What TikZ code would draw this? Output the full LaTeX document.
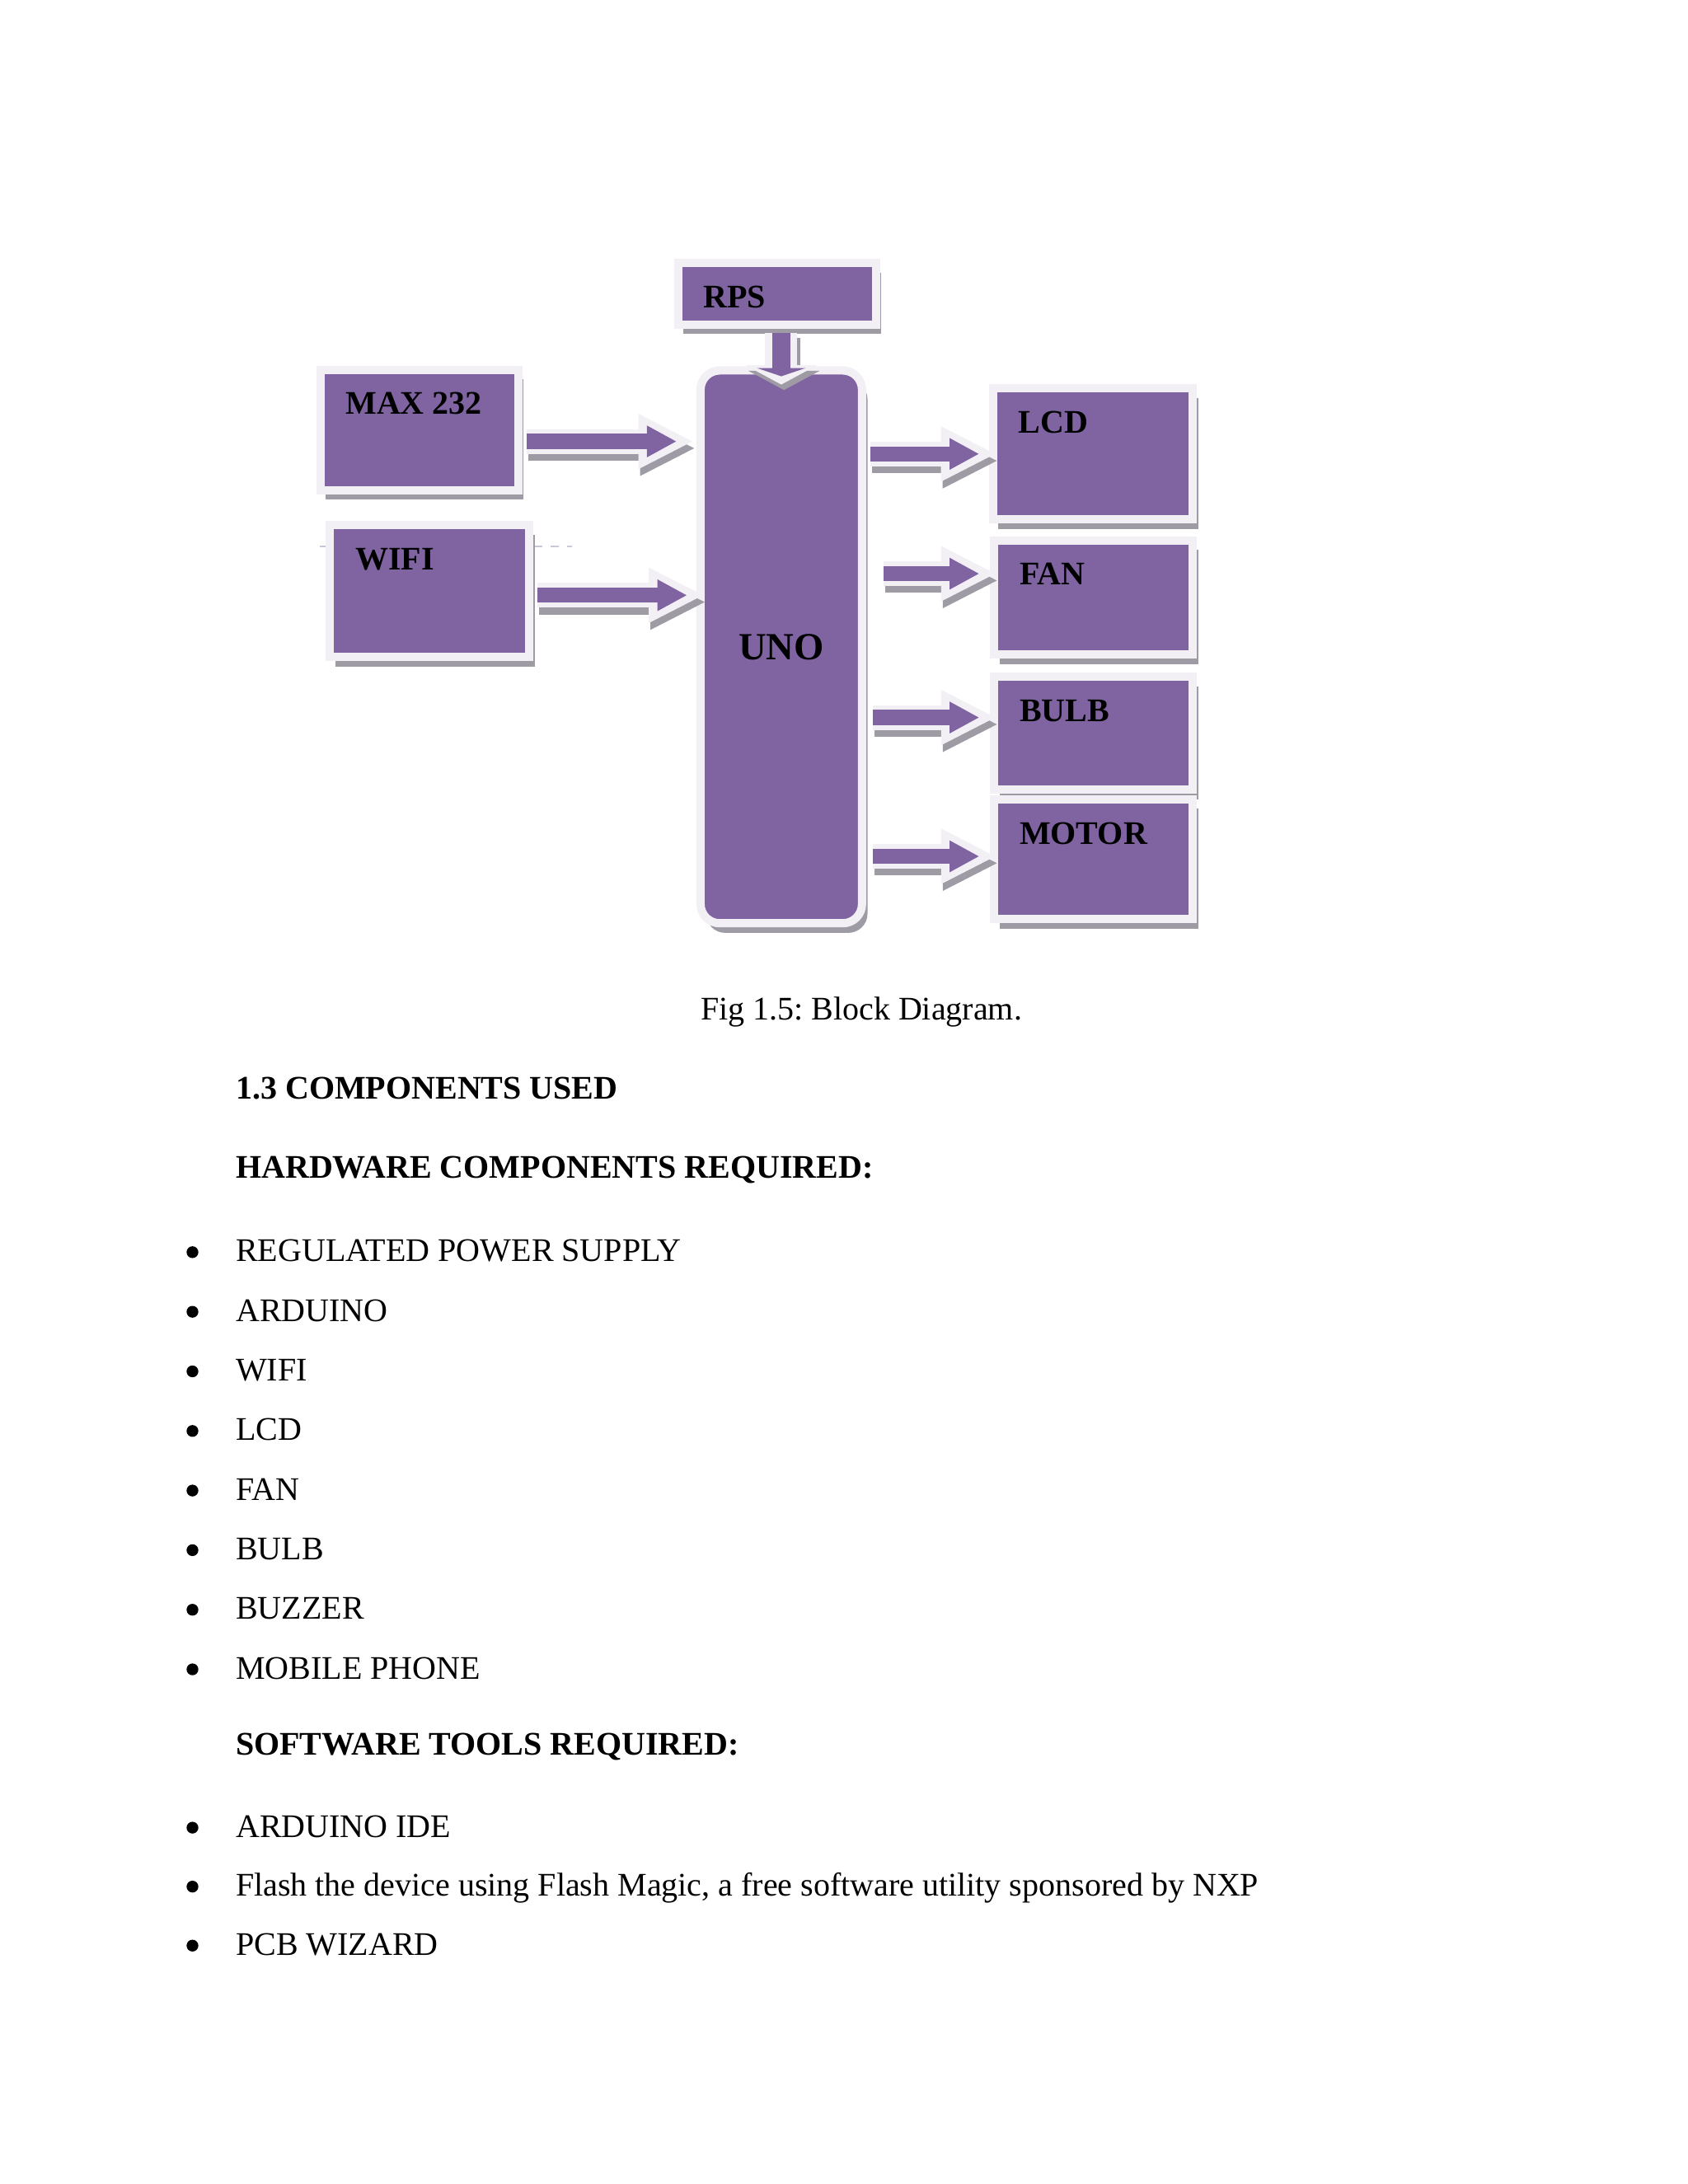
\documentclass[12pt,tikz,border=0pt]{standalone}
\usepackage{fontspec}
\setmainfont{Liberation Serif}
\usetikzlibrary{arrows.meta,shadows}
\frenchspacing

\definecolor{boxpurple}{RGB}{128,100,162}
\definecolor{boxrim}{RGB}{242,240,245}
\definecolor{boxshade}{RGB}{158,155,165}
\definecolor{ghostline}{RGB}{200,200,212}

\tikzset{
    block diagram/.style = {line join=miter},
    block/.style   = {draw=boxrim, line width=3pt, fill=boxpurple, inner sep=0pt,
                      drop shadow={shadow xshift=2pt, shadow yshift=-3.5pt,
                                   fill=boxshade, opacity=1}},
    mcu/.style     = {block, rounded corners=7pt,
                      font=\bfseries\fontsize{14}{17}\selectfont},
    blabel/.style  = {anchor=north west, inner sep=0pt,
                      xshift=0.37cm, yshift=-0.34cm, font=\bfseries},
    flow/.style    = {draw=boxpurple, line width=5.5pt, shorten >=6pt,
                      -{Triangle[length=10.6pt, width=11.6pt, line width=0pt]},
                      preaction={draw=boxshade, line width=9pt, shorten >=0pt,
                                 transform canvas={xshift=0.6pt, yshift=-2.5pt},
                                 -{Triangle[length=19.7pt, width=20.2pt, line width=0pt]}},
                      preaction={draw=boxrim, line width=9pt, shorten >=0pt,
                                 -{Triangle[length=19.7pt, width=20.2pt, line width=0pt]}}},
    feed/.style    = {draw=boxpurple, line width=6.5pt, shorten >=3pt,
                      -{Triangle[length=3pt, width=17.7pt, line width=0pt]},
                      preaction={draw=boxshade, line width=11.7pt, shorten >=0pt,
                                 transform canvas={xshift=1pt, yshift=-2pt},
                                 -{Triangle[length=7pt, width=26pt, line width=0pt]}},
                      preaction={draw=boxrim, line width=11.7pt, shorten >=0pt,
                                 -{Triangle[length=7pt, width=26pt, line width=0pt]}}},
    caption/.style = {anchor=base, inner sep=0pt},
    heading/.style = {anchor=base west, inner sep=0pt, font=\bfseries},
    item/.style    = {anchor=base west, inner sep=0pt},
    dot/.style     = {circle, fill=black, inner sep=0pt, minimum size=4.3pt}
}

\begin{document}
\begin{tikzpicture}[block diagram]
\useasboundingbox (0,0) rectangle (21.59,-27.94);

% ================= Faint guide behind WIFI =================
\draw[ghostline, dashed, thin] (4.09,-6.99) -- (7.32,-6.99);

% ================= Blocks =================
\node[block, minimum width=2.53cm, minimum height=0.784cm,
      label={[blabel]north west:RPS}] (rps) at (9.940,-3.759) {};
\node[mcu, minimum width=2.066cm, minimum height=7.072cm] (uno) at (9.994,-8.275) {UNO};

\node[block, minimum width=2.53cm, minimum height=1.541cm,
      label={[blabel]north west:MAX 232}] (max) at (5.362,-5.500) {};
\node[block, minimum width=2.547cm, minimum height=1.692cm,
      label={[blabel]north west:WIFI}] (wifi) at (5.496,-7.562) {};

\node[block, minimum width=2.556cm, minimum height=1.675cm,
      label={[blabel]north west:LCD}] (lcd) at (13.980,-5.807) {};
\node[block, minimum width=2.539cm, minimum height=1.461cm,
      label={[blabel]north west:FAN}] (fan) at (13.988,-7.642) {};
\node[block, minimum width=2.539cm, minimum height=1.443cm,
      label={[blabel]north west:BULB}] (bulb) at (13.988,-9.379) {};
\node[block, minimum width=2.539cm, minimum height=1.532cm,
      label={[blabel]north west:MOTOR}] (motor) at (13.988,-10.991) {};

% ================= Inputs =================
\draw[feed] ([yshift=-1.5pt]uno.north |- rps.south) -- ([yshift=-0.233cm]uno.north);
\draw[flow] ([xshift=1.5pt, yshift=-0.147cm]max.east)
    -- ([xshift=-0.05cm, yshift=-0.147cm]max.east -| uno.west);
\draw[flow] ([xshift=1.5pt, yshift=-0.053cm]wifi.east)
    -- ([xshift=0.084cm, yshift=-0.053cm]wifi.east -| uno.west);

% ================= Outputs =================
\draw[flow] ([xshift=1.5pt]lcd.west -| uno.east) -- ([xshift=0.08cm]lcd.west);
\draw[flow] ([xshift=0.22cm, yshift=0.303cm]fan.west -| uno.east)
    -- ([xshift=0.065cm, yshift=0.303cm]fan.west);
\draw[flow] ([xshift=0.085cm, yshift=0.2cm]bulb.west -| uno.east)
    -- ([xshift=0.065cm, yshift=0.2cm]bulb.west);
\draw[flow] ([xshift=0.085cm, yshift=0.036cm]motor.west -| uno.east)
    -- ([xshift=0.065cm, yshift=0.036cm]motor.west);

% ================= Text =================
\node[caption] (cap) at (11.018,-13.052) {Fig 1.5: Block Diagram.};
\node[heading] (sec) at (3.01,-14.064) {1.3 COMPONENTS USED};
\node[heading] (hw) at (3.01,-15.076) {HARDWARE COMPONENTS REQUIRED:};
\foreach \comp [count=\i from 0] in {REGULATED POWER SUPPLY, ARDUINO, WIFI, LCD,
                                      FAN, BULB, BUZZER, MOBILE PHONE} {
    \node[item] (hw\i) at (3.01,{-16.140-0.7624*\i}) {\comp};
    \node[dot] (hwdot\i) at (2.462,{-16.019-0.7624*\i}) {};
}
\node[heading] (sw) at (3.01,-22.455) {SOFTWARE TOOLS REQUIRED:};
\foreach \comp [count=\i from 0] in {ARDUINO IDE,
        {Flash the device using Flash Magic, a free software utility sponsored by NXP},
        PCB WIZARD} {
    \node[item] (sw\i) at (3.01,{-23.502-0.7545*\i}) {\comp};
    \node[dot] (swdot\i) at (2.462,{-23.381-0.7545*\i}) {};
}

\end{tikzpicture}
\end{document}
